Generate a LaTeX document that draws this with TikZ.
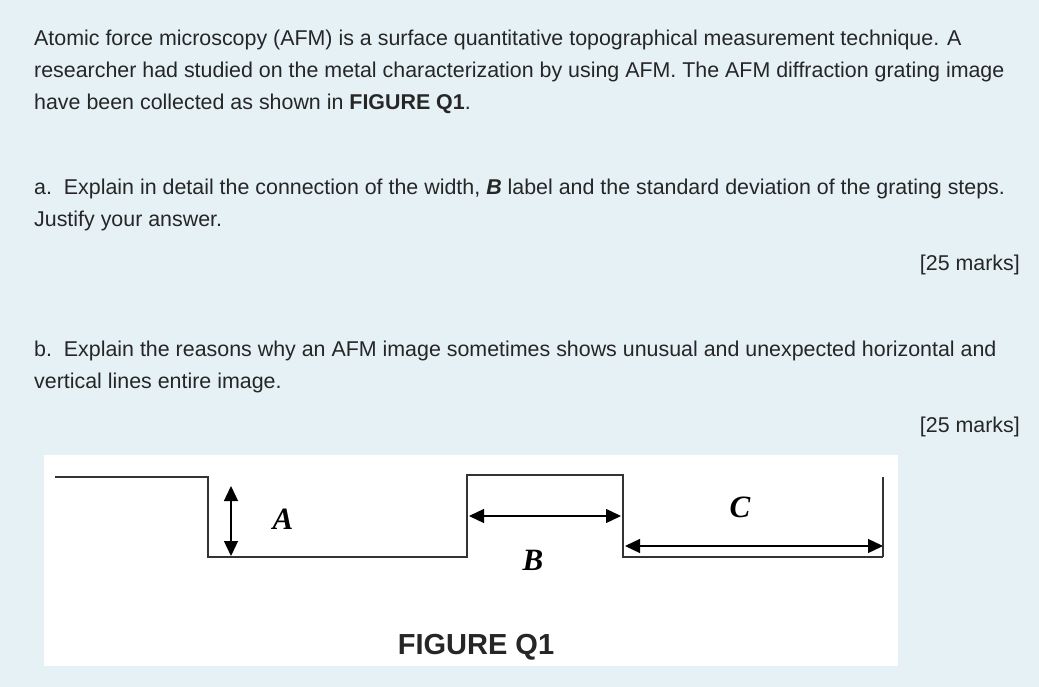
\documentclass[tikz,border=0pt]{standalone}
\usepackage{fontspec}
\setmainfont{Liberation Sans}
\newfontfamily\tnr{Liberation Serif}
\usetikzlibrary{arrows.meta}
\begin{document}
\begin{tikzpicture}[x=1pt,y=-1pt,
  txt/.style={anchor=west,inner sep=0pt,font=\fontsize{21.4}{24}\selectfont,text=black!85},
  prof/.style={line width=1.8pt,black!80},
  dim/.style={line width=1.3pt,{Triangle[length=15pt,width=14pt]}-{Triangle[length=15pt,width=14pt]}},
  lab/.style={font=\tnr\bfseries\itshape\fontsize{31}{31}\selectfont}]
\useasboundingbox (0,0) rectangle (1039,687);
\fill[fill={rgb,255:red,230;green,241;blue,245}] (0,0) rectangle (1039,687);
\node[txt] (l1) at (34,40) {Atomic force microscopy (AFM) is a surface quantitative topographical measurement technique. A};
\node[txt] (l2) at (34,72) {researcher had studied on the metal characterization by using AFM. The AFM diffraction grating image};
\node[txt] (l3) at (34,104) {have been collected as shown in \textbf{FIGURE Q1}.};
\node[txt] (l4) at (34,189) {a.\ \ Explain in detail the connection of the width, \textbf{\textit{B}} label and the standard deviation of the grating steps.};
\node[txt] (l5) at (34,221) {Justify your answer.};
\node[txt,anchor=east] (m1) at (1020,265) {[25 marks]};
\node[txt] (l6) at (34,351) {b.\ \ Explain the reasons why an AFM image sometimes shows unusual and unexpected horizontal and};
\node[txt] (l7) at (34,383) {vertical lines entire image.};
\node[txt,anchor=east] (m2) at (1020,427) {[25 marks]};
\fill[white] (44,455) rectangle (898,666);
\draw[prof] (55,477) -- (208,477) -- (208,557) -- (467,557) -- (467,475) -- (623,475) -- (623,557) -- (883,557);
\draw[prof] (883,477) -- (883,557);
\coordinate (a1) at (231,486); \coordinate (a2) at (231,556);
\coordinate (b1) at (469,516); \coordinate (b2) at (621,516);
\coordinate (c1) at (625,546); \coordinate (c2) at (883,546);
\draw[dim] (a1) -- (a2);
\draw[dim] (b1) -- (b2);
\draw[dim] (c1) -- (c2);
\node[lab] (A) at (283,519) {A};
\node[lab] (B) at (533,560) {B};
\node[lab] (C) at (740,507) {C};
\node[font=\bfseries\fontsize{29}{29}\selectfont,text=black!85] (F) at (476,647) {FIGURE Q1};
\end{tikzpicture}
\end{document}
